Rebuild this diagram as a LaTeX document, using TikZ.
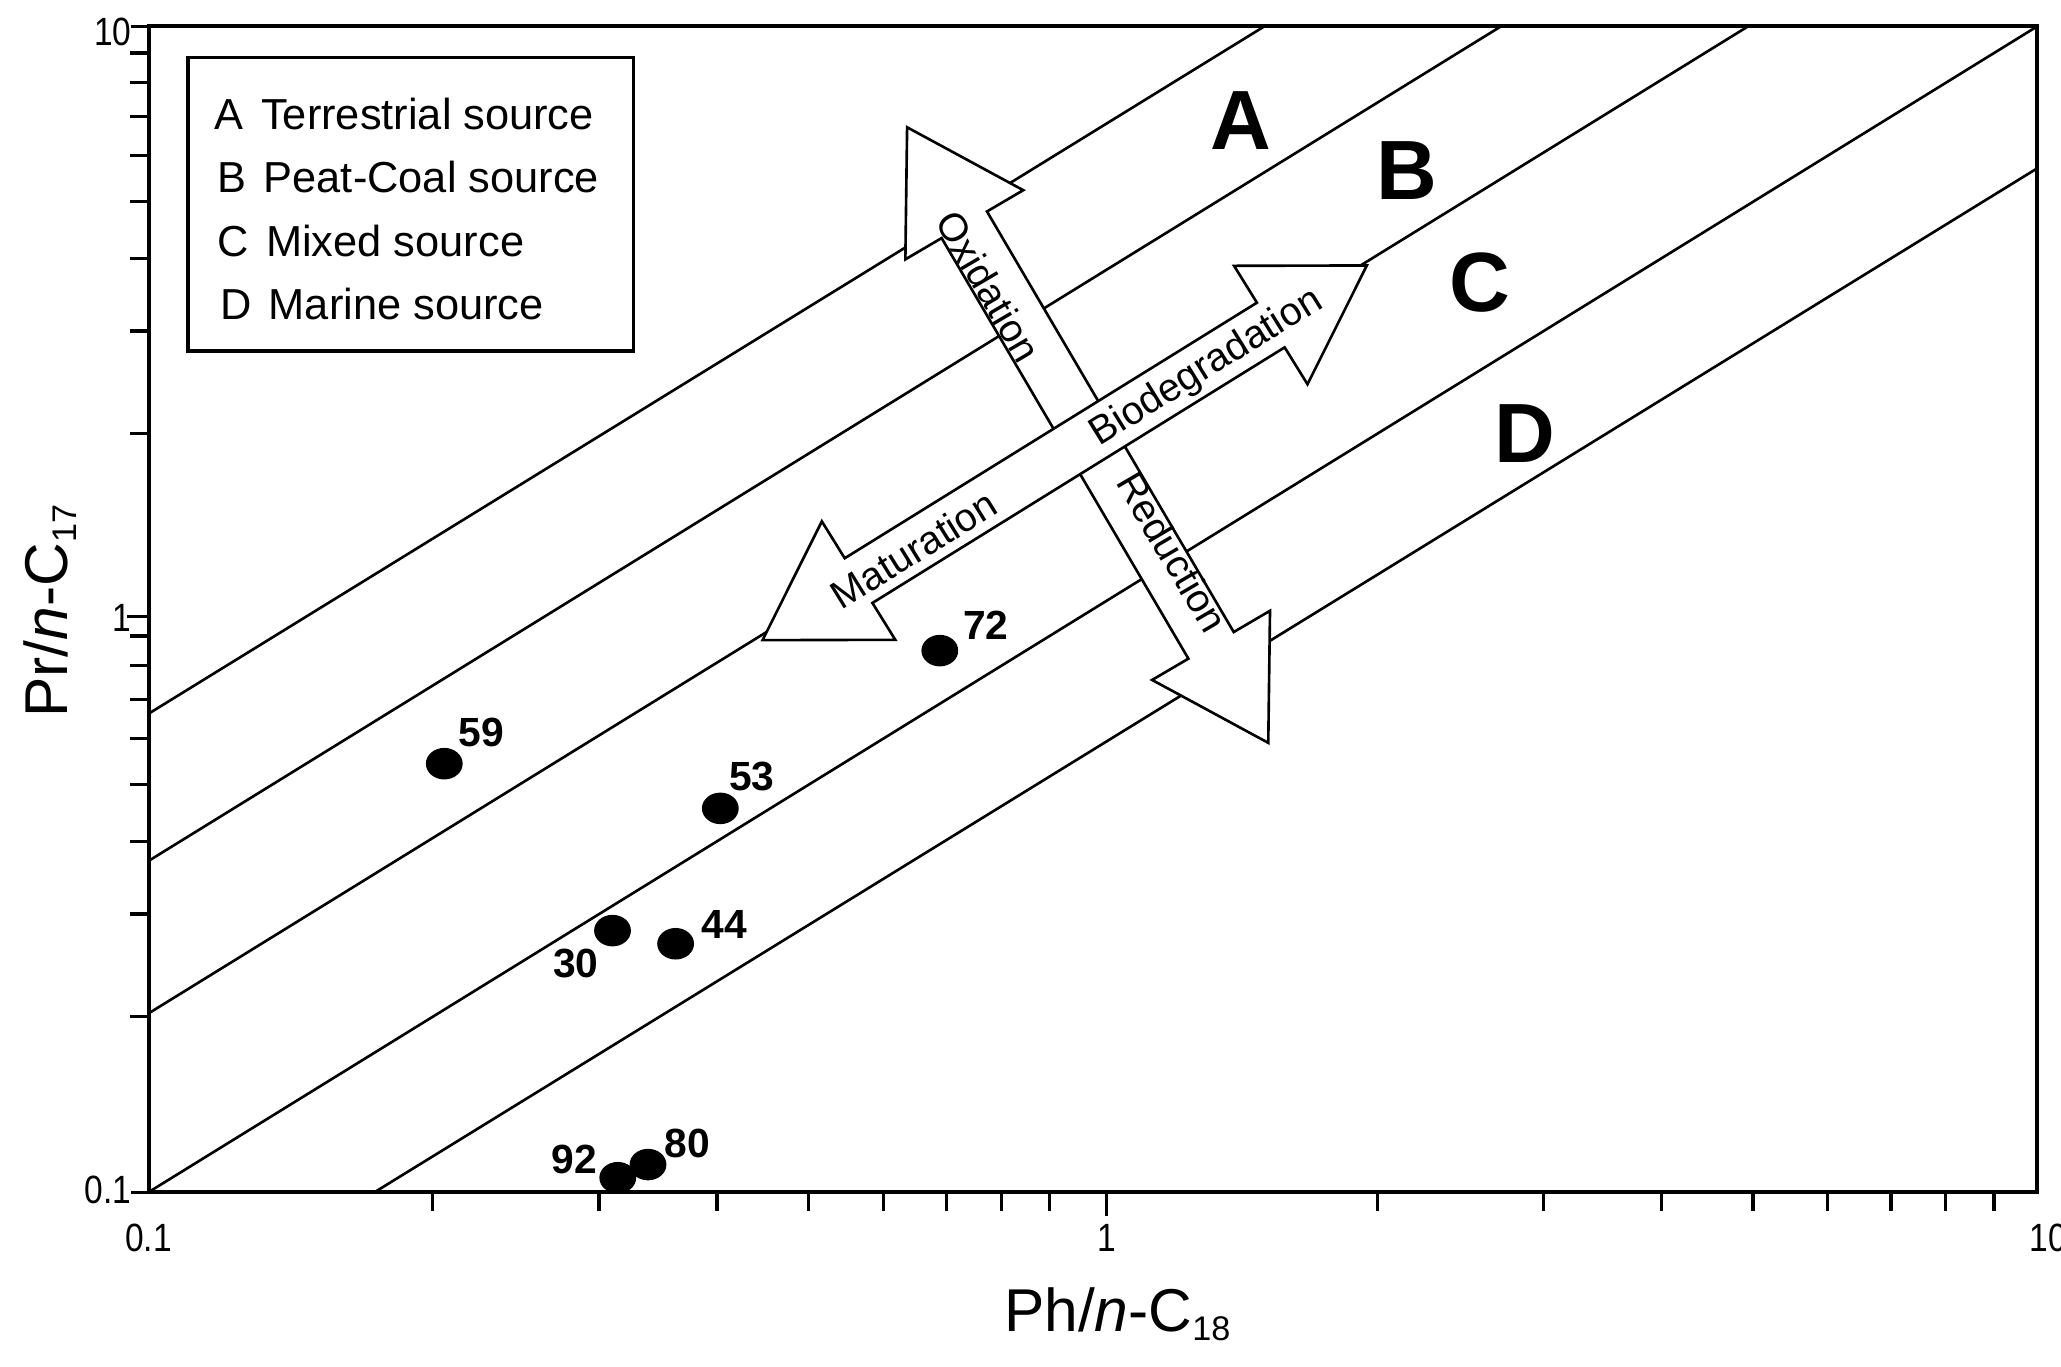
\documentclass[tikz,border=0pt]{standalone}
\usepackage{fontspec}
\setmainfont{Liberation Sans}
\usetikzlibrary{shapes.geometric}
\begin{document}
\begin{tikzpicture}[x=1pt,y=-1pt,
  frame/.style={line width=3pt},
  dline/.style={line width=2pt},
  tick/.style={line width=2.5pt},
  arr/.style={draw,fill=white,line width=2pt,line join=miter},
  pt/.style={ellipse,fill=black,minimum width=28pt,minimum height=24pt,inner sep=0pt},
  plab/.style={font=\fontsize{31}{33}\selectfont\bfseries},
  big/.style={font=\fontsize{64}{66}\selectfont\bfseries},
  leg/.style={font=\fontsize{33}{35}\selectfont,anchor=west},
  tl/.style={font=\fontsize{30}{32}\selectfont,xscale=0.85},
  al/.style={font=\fontsize{30}{32}\selectfont},
  axl/.style={font=\fontsize{46}{48}\selectfont}]
\useasboundingbox (0,0) rectangle (1568,1040);
% data lines
\draw[dline] (113,543) -- (962,20);
\draw[dline] (113,655) -- (1142,20);
\draw[dline] (113,771) -- (1330,20);
\draw[dline] (113,907) -- (1550,20);
\draw[dline] (285,907) -- (1550,128);
% frame
\draw[frame] (113,20) rectangle (1550,907);
% x ticks
\foreach \d in {0,1}{
  \foreach \k in {2,...,9}{
    \pgfmathsetmacro{\xx}{113+718.5*\d+718.5*log10(\k)}
    \draw[tick] (\xx,907) -- (\xx,921);
  }}
\draw[tick] (842,907) -- (842,925);
% y ticks
\foreach \d in {0,1}{
  \foreach \k in {2,...,9}{
    \pgfmathsetmacro{\yy}{907-443.5*\d-443.5*log10(\k)}
    \draw[tick] (113,\yy) -- (99,\yy);
  }}
\draw[tick] (113,469) -- (97,469);
\draw[tick] (113,907) -- (100,907);
\draw[tick] (113,20) -- (100,20);
% tick labels
\node[tl] (x01) at (113,942) {0.1};
\node[tl] (x1) at (842,942) {1};
\node[tl,anchor=west] (x10) at (1541,942) {10};
\node[tl,anchor=east] (y10) at (103,24) {10};
\node[tl,anchor=east] (y1) at (103,470) {1};
\node[tl,anchor=east] (y01) at (103,905) {0.1};
% axis labels
\node[axl] (xlab) at (850,1000) {Ph/\textit{n}-C{\fontsize{26}{28}\selectfont\raisebox{-0.25em}{18}}};
\node[axl,rotate=90] (ylab) at (38,465) {Pr/\textit{n}-C{\fontsize{26}{28}\selectfont\raisebox{-0.25em}{17}}};
% legend
\draw[line width=2.5pt] (143,44) rectangle (482,267);
\node[leg] (la) at (160,87) {A\hspace{0.4em}Terrestrial source};
\node[leg] (lb) at (162,135) {B\hspace{0.4em}Peat-Coal source};
\node[leg] (lc) at (162,183) {C\hspace{0.4em}Mixed source};
\node[leg] (ld) at (164,231) {D\hspace{0.4em}Marine source};
% region letters
\node[big] (A) at (944,92) {A};
\node[big] (B) at (1070,130) {B};
\node[big] (C) at (1126,215) {C};
\node[big] (D) at (1160,330) {D};
% vertical double arrow
\begin{scope}[shift={(827.5,331)},rotate=-59.6]
\draw[arr] (-271.5,0) -- (-185.5,52) -- (-185.5,20) -- (185.5,20) -- (185.5,52) -- (271.5,0)
  -- (185.5,-52) -- (185.5,-20) -- (-185.5,-20) -- (-185.5,-52) -- cycle;
\end{scope}
% horizontal double arrow (on top)
\begin{scope}[shift={(810,344.5)},rotate=31.8]
\draw[arr] (-270.5,0) -- (-184.5,53) -- (-184.5,20) -- (184.5,20) -- (184.5,53) -- (270.5,0)
  -- (184.5,-53) -- (184.5,-20) -- (-184.5,-20) -- (-184.5,-53) -- cycle;
\end{scope}
\node[al,rotate=-59.6] (ox) at (752,218) {Oxidation};
\node[al,rotate=-59.6] (red) at (892,420) {Reduction};
\node[al,rotate=31.8] (bio) at (918,280) {Biodegradation};
\node[al,rotate=31.8] (mat) at (695,418) {Maturation};
% points
\node[pt] (p59) at (338,581) {};
\node[plab] (l59) at (366,557) {59};
\node[pt] (p53) at (548,615) {};
\node[plab] (l53) at (572,591) {53};
\node[pt] (p30) at (466,708) {};
\node[plab] (l30) at (438,733) {30};
\node[pt] (p44) at (514,718) {};
\node[plab] (l44) at (551,703) {44};
\node[pt] (p72) at (715,495) {};
\node[plab] (l72) at (750,476) {72};
\node[pt] (p80) at (493,886) {};
\node[plab] (l80) at (523,870) {80};
\node[pt] (p92) at (470,896) {};
\node[plab] (l92) at (437,882) {92};
\end{tikzpicture}
\end{document}
